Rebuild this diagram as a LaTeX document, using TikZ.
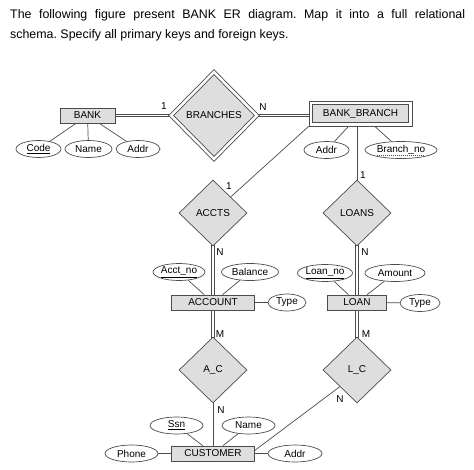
\documentclass[tikz,border=0pt]{standalone}
\usepackage{fontspec}
\setmainfont{Liberation Sans}
\usetikzlibrary{shapes.geometric,calc}
\frenchspacing

\tikzset{
  ent/.style={draw=black!70,line width=.7pt,fill=black!13,minimum height=15pt,inner sep=0pt,font=\fontsize{10}{12}\selectfont},
  attr/.style={draw=black!70,line width=.7pt,ellipse,fill=white,minimum height=17pt,inner sep=0pt,font=\fontsize{10}{12}\selectfont},
  rel/.style={draw=black!70,line width=.7pt,diamond,fill=black!13,minimum width=68pt,minimum height=66pt,inner sep=0pt,font=\fontsize{10}{12}\selectfont},
  outer/.style={draw=black!70,line width=.7pt,fill=white,inner sep=0pt},
  card/.style={inner sep=0pt,font=\fontsize{10}{12}\selectfont},
  link/.style={draw=black!70,line width=.7pt},
}

\begin{document}
\begin{tikzpicture}[x=1pt,y=-1pt]
  \useasboundingbox (0,0) rectangle (474,469);
  \node[anchor=north west,text width=455pt,align=justify,inner sep=0pt,font=\fontsize{12.4}{19.5}\selectfont] (title) at (10,9.5)
    {The following figure present BANK ER diagram. Map it into a full relational\linebreak schema. Specify all primary keys and foreign keys.};
  % bank and its branches
  \node[ent,minimum width=55pt] (bank) at (87.5,115.5) {BANK};
  \node[attr,minimum width=45pt] (code) at (38.5,149) {\underline{Code}};
  \node[attr,minimum width=47pt] (bname) at (88.5,149) {Name};
  \node[attr,minimum width=44pt] (baddr) at (138,149) {Addr};
  \node[outer,diamond,minimum width=91pt,minimum height=92pt] (branches) at (214,115.5) {};
  \node[rel,minimum width=81pt,minimum height=82pt] (branchesin) at (branches) {BRANCHES};
  \node[outer,minimum width=103pt,minimum height=25pt] (bb) at (360.5,113.5) {};
  \node[ent,minimum width=96pt,minimum height=18pt] (bbin) at (bb) {BANK\_BRANCH};
  \node[attr,minimum width=45pt] (bbaddr) at (326.5,150) {Addr};
  \node[attr,minimum width=72pt] (bbno) at (401,150) {Branch\_no};
  \draw[black!70,line width=.6pt,dash pattern=on 1pt off 1pt] ($(bbno.center)+(-24,5)$) -- ($(bbno.center)+(24,5)$);
  % accounts and loans
  \node[rel] (accts) at (213,213) {ACCTS};
  \node[rel] (loans) at (357,213) {LOANS};
  \node[ent,minimum width=83pt] (account) at (213,302.5) {ACCOUNT};
  \node[attr,minimum width=52pt] (acctno) at (179,272) {\underline{Acct\_no}};
  \node[attr,minimum width=57pt] (balance) at (250,272) {Balance};
  \node[attr,minimum width=38pt] (atype) at (287,302.5) {Type};
  \node[ent,minimum width=59pt] (loan) at (357,302.5) {LOAN};
  \node[attr,minimum width=46pt] (loanno) at (325,273) {\underline{Loan\_no}};
  \node[attr,minimum width=60pt] (amount) at (395,273) {Amount};
  \node[attr,minimum width=40pt] (ltype) at (420,303) {Type};
  % customers
  \node[rel] (ac) at (213,370) {A\_C};
  \node[rel] (lc) at (357,370) {L\_C};
  \node[ent,minimum width=83pt] (cust) at (213,453.5) {CUSTOMER};
  \node[attr,minimum width=53pt] (ssn) at (176.5,425.5) {\underline{Ssn}};
  \node[attr,minimum width=53pt] (cname) at (248.5,425.5) {Name};
  \node[attr,minimum width=53pt] (phone) at (131.5,453.5) {Phone};
  \node[attr,minimum width=54pt] (caddr) at (295,453.5) {Addr};
  % relationships, total participation as double lines
  \foreach \s in {-1.2pt,1.2pt} {
    \draw[link] ([yshift=\s]bank.east) -- ([shift={(1.2pt,\s)}]branches.west);
    \draw[link] ([shift={(-1.2pt,\s)}]branches.east) -- ([yshift=\s]branches.east -| bb.west);
    \draw[link] ([shift={(\s,1.2pt)}]accts.south) -- ([xshift=\s]account.north);
    \draw[link] ([shift={(\s,1.2pt)}]loans.south) -- ([xshift=\s]loan.north);
    \draw[link] ([xshift=\s]account.south) -- ([shift={(\s,-1.2pt)}]ac.north);
    \draw[link] ([xshift=\s]loan.south) -- ([shift={(\s,-1.2pt)}]lc.north);
  }
  \draw[link] (bb.south west) -- (accts);
  \draw[link] (loans) -- (loans |- bb.south);
  \draw[link] (ac) -- (cust);
  \draw[link] ($(lc.west)!.5!(lc.south)$) -- ($(cust.north east)!.3!(cust.south east)$);
  % attributes
  \foreach \a in {code,bname,baddr} \draw[link] (bank) -- (\a);
  \foreach \a in {bbaddr,bbno} \draw[link] (bb) -- (\a);
  \foreach \a in {acctno,balance,atype} \draw[link] (account) -- (\a);
  \foreach \a in {loanno,amount,ltype} \draw[link] (loan) -- (\a);
  \foreach \a in {ssn,cname,phone,caddr} \draw[link] (cust) -- (\a);
  % cardinalities
  \node[card] at (164,106) {1};
  \node[card] at (263,107) {N};
  \node[card] at (229,186) {1};
  \node[card] at (363,175) {1};
  \node[card] at (220,252) {N};
  \node[card] at (365,252) {N};
  \node[card] at (220,334) {M};
  \node[card] at (366,334) {M};
  \node[card] at (221,410) {N};
  \node[card] at (340,399) {N};
\end{tikzpicture}
\end{document}
